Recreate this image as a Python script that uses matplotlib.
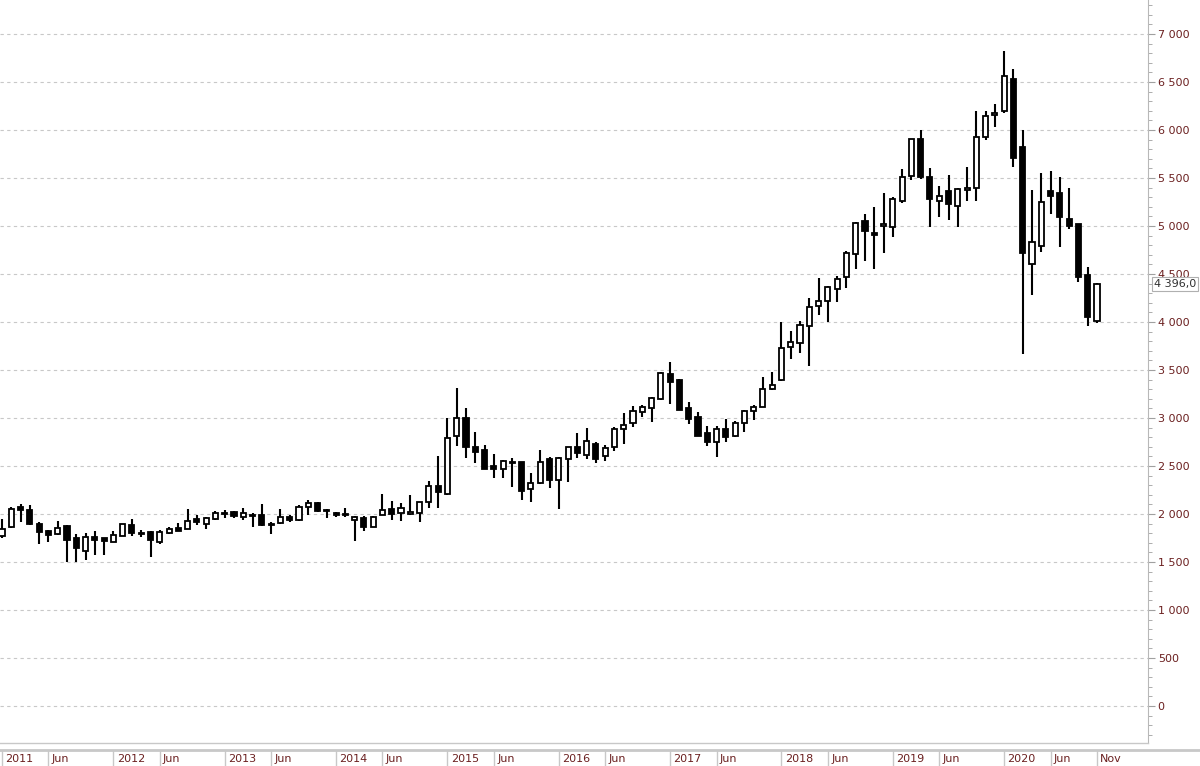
import matplotlib.pyplot as plt
import matplotlib.ticker as mticker
import numpy as np

# monthly candles, Jan 2011 .. Nov 2020
opens = [1770, 1860, 2070, 2040, 1900, 1820, 1790, 1880, 1750, 1610, 1760, 1750,
         1710, 1775, 1885, 1805, 1810, 1710, 1805, 1855, 1845, 1945, 1900, 1950,
         2010, 2020, 1970, 1985, 1990, 1895, 1905, 1970, 1940, 2075, 2120, 2045,
         2015, 1995, 1940, 1960, 1870, 1990, 2050, 2010, 2000, 2010, 2125, 2290,
         2210, 2810, 3000, 2700, 2665, 2500, 2470, 2545, 2540, 2260, 2325, 2570,
         2355, 2575, 2700, 2615, 2730, 2605, 2700, 2885, 2950, 3065, 3105, 3200,
         3455, 3395, 3105, 3010, 2845, 2750, 2885, 2810, 2950, 3075, 3115, 3300,
         3395, 3740, 3780, 3960, 4165, 4220, 4345, 4470, 4710, 5050, 4925, 5005,
         4990, 5260, 5520, 5905, 5510, 5260, 5365, 5210, 5380, 5395, 5925, 6160,
         6200, 6530, 5825, 4605, 4790, 5365, 5345, 5075, 5020, 4490, 4010]
highs = [1950, 2070, 2100, 2090, 1920, 1830, 1930, 1890, 1790, 1800, 1820, 1755,
         1820, 1900, 1950, 1830, 1820, 1830, 1860, 1905, 2050, 1990, 1970, 2030,
         2040, 2030, 2060, 2010, 2100, 1920, 2050, 1990, 2090, 2145, 2130, 2050,
         2025, 2060, 1975, 1975, 1975, 2210, 2135, 2115, 2200, 2130, 2345, 2600,
         3000, 3310, 3100, 2850, 2720, 2625, 2560, 2580, 2545, 2430, 2665, 2590,
         2590, 2700, 2845, 2895, 2750, 2720, 2910, 3050, 3125, 3135, 3220, 3480,
         3585, 3410, 3165, 3060, 2915, 2915, 2990, 2970, 3080, 3140, 3430, 3480,
         4000, 3905, 4010, 4250, 4460, 4375, 4480, 4740, 5040, 5125, 5200, 5345,
         5300, 5595, 5910, 6000, 5605, 5415, 5530, 5395, 5615, 6200, 6200, 6270,
         6825, 6635, 6000, 5375, 5550, 5575, 5510, 5395, 5025, 4575, 4410]
lows = [1750, 1850, 1920, 1890, 1690, 1710, 1785, 1500, 1500, 1520, 1570, 1570,
        1705, 1770, 1770, 1760, 1550, 1690, 1790, 1820, 1840, 1890, 1845, 1940,
        1960, 1960, 1940, 1860, 1880, 1790, 1900, 1920, 1930, 1990, 2025, 1960,
        1965, 1970, 1720, 1820, 1860, 1985, 1940, 1930, 1995, 1920, 2065, 2065,
        2200, 2710, 2585, 2530, 2465, 2375, 2380, 2280, 2145, 2125, 2310, 2270,
        2050, 2335, 2580, 2575, 2530, 2550, 2660, 2730, 2905, 3010, 2960, 3190,
        3145, 3080, 2940, 2810, 2710, 2595, 2750, 2805, 2855, 2980, 3110, 3290,
        3390, 3615, 3675, 3540, 4075, 4000, 4210, 4355, 4550, 4635, 4550, 4720,
        4885, 5240, 5480, 5490, 4990, 5095, 5065, 4990, 5260, 5260, 5900, 6030,
        6180, 5615, 3665, 4280, 4730, 5125, 4780, 4970, 4415, 3960, 3990]
closes = [1840, 2050, 2040, 1900, 1810, 1780, 1850, 1730, 1650, 1760, 1730, 1715,
          1780, 1895, 1800, 1795, 1730, 1810, 1845, 1825, 1925, 1920, 1960, 2010,
          2000, 1975, 2010, 1975, 1890, 1885, 1970, 1940, 2070, 2115, 2035, 2035,
          1985, 1985, 1965, 1870, 1965, 2040, 2000, 2060, 2020, 2125, 2290, 2230,
          2790, 3000, 2700, 2650, 2470, 2470, 2550, 2535, 2240, 2325, 2540, 2355,
          2580, 2695, 2640, 2760, 2575, 2685, 2885, 2925, 3070, 3110, 3205, 3465,
          3375, 3085, 2990, 2815, 2750, 2885, 2800, 2945, 3070, 3110, 3300, 3345,
          3730, 3790, 3970, 4155, 4220, 4365, 4445, 4720, 5030, 4950, 4910, 5015,
          5280, 5510, 5905, 5510, 5280, 5310, 5230, 5385, 5390, 5925, 6145, 6170,
          6560, 5710, 4720, 4835, 5250, 5315, 5095, 5000, 4470, 4050, 4396]

# date axis labels: (month index, text)
date_ticks = [0, 5, 12, 17, 24, 29, 36, 41, 48, 53, 60, 65, 72, 77,
              84, 89, 96, 101, 108, 113, 118]
date_labels = ["2011", "Jun", "2012", "Jun", "2013", "Jun", "2014", "Jun",
               "2015", "Jun", "2016", "Jun", "2017", "Jun", "2018", "Jun",
               "2019", "Jun", "2020", "Jun", "Nov"]
last_price = "4 396,0"

label_col = "#6b2020"
grid_col = "#c8c8c8"

fig = plt.figure(figsize=(12, 7.66), dpi=100)
W, H = 1200, 766
ax = fig.add_axes([0, (H - 743) / H, 1148 / W, 743 / H])

o = np.array(opens)
h = np.array(highs)
l = np.array(lows)
c = np.array(closes)
x = np.arange(len(o))
up = c >= o

ax.vlines(x, l, h, color="black", lw=1.5, zorder=2)
body_lo = np.minimum(o, c)
body_h = np.maximum(np.abs(c - o), 12)
ax.bar(x[up], body_h[up], bottom=body_lo[up], width=0.55, color="white",
       edgecolor="black", linewidth=1.3, zorder=3)
ax.bar(x[~up], body_h[~up], bottom=body_lo[~up], width=0.55, color="black",
       edgecolor="black", linewidth=1.3, zorder=3)

ax.set_xlim(-0.22, 123.5)
ax.set_ylim(-385, 7354)

ax.yaxis.tick_right()
ax.yaxis.set_major_locator(mticker.MultipleLocator(500))
ax.yaxis.set_minor_locator(mticker.MultipleLocator(100))
ax.yaxis.set_major_formatter(mticker.FuncFormatter(lambda v, p: f"{int(v):,}".replace(",", " ")))
ax.tick_params(axis="y", which="major", length=5, color="#a0a0a0", labelsize=8,
               labelcolor=label_col, pad=2)
ax.tick_params(axis="y", which="minor", length=3, color="#a0a0a0")
ax.set_xticks([])
for s in ["top", "left"]:
    ax.spines[s].set_visible(False)
ax.spines["right"].set_color("#b8b8b8")
ax.spines["bottom"].set_color("#c8c8c8")
ax.spines["bottom"].set_linewidth(1.0)
ax.grid(axis="y", which="major", color=grid_col, linestyle=(0, (3, 3)), lw=0.8)
ax.set_axisbelow(True)

ax.annotate(last_price, xy=(1.005, closes[-1]), xycoords=("axes fraction", "data"),
            fontsize=8, color="#303030", va="center", ha="left", annotation_clip=False,
            bbox=dict(boxstyle="square,pad=0.15", fc="white", ec="#b0b0b0", lw=0.8))

# date strip
dax = fig.add_axes([0, 0, 1148 / W, (H - 750) / H])
dax.set_xlim(ax.get_xlim())
dax.set_ylim(0, 1)
dax.axis("off")
for t, lab in zip(date_ticks, date_labels):
    dax.axvline(t, color="#c8c8c8", lw=1)
    dax.text(t + 0.35, 0.45, lab, fontsize=8, color=label_col, va="center", ha="left")
fig.add_artist(plt.Line2D([0, 1], [(H - 750) / H] * 2, color="#c8c8c8", lw=2))

fig.savefig("out.png", dpi=100)
